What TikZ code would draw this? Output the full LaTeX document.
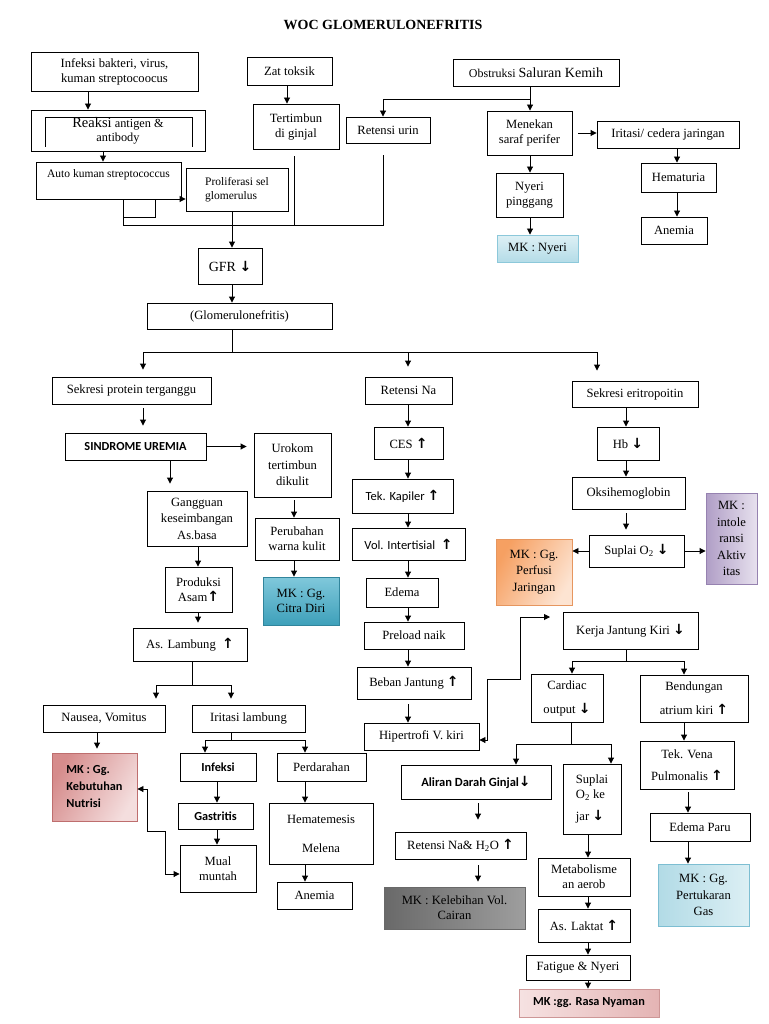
\documentclass[tikz,border=0pt]{standalone}
\usepackage{fontspec}
\setmainfont{Liberation Serif}
\newfontfamily\calibri{Carlito}
\newfontfamily\panah{DejaVu Sans}
\usetikzlibrary{arrows.meta}
\usepackage{xcolor}

\definecolor{nyeriA}{RGB}{222,240,245}
\definecolor{nyeriB}{RGB}{180,220,231}
\definecolor{nyeriC}{RGB}{140,200,218}
\definecolor{citraA}{RGB}{128,200,219}
\definecolor{citraB}{RGB}{62,160,186}
\definecolor{citraC}{RGB}{49,133,156}
\definecolor{perfusiA}{RGB}{246,160,98}
\definecolor{perfusiB}{RGB}{253,228,210}
\definecolor{perfusiC}{RGB}{230,150,95}
\definecolor{intolA}{RGB}{176,158,198}
\definecolor{intolB}{RGB}{231,225,238}
\definecolor{intolC}{RGB}{150,130,176}
\definecolor{nutriA}{RGB}{214,140,140}
\definecolor{nutriB}{RGB}{244,222,222}
\definecolor{nutriC}{RGB}{190,110,110}
\definecolor{kelebA}{RGB}{105,105,105}
\definecolor{kelebB}{RGB}{218,218,218}
\definecolor{kelebC}{RGB}{158,158,158}
\definecolor{gasA}{RGB}{178,219,230}
\definecolor{gasB}{RGB}{220,239,244}
\definecolor{gasC}{RGB}{125,190,210}
\definecolor{rasaA}{RGB}{246,226,226}
\definecolor{rasaB}{RGB}{228,180,180}
\definecolor{rasaC}{RGB}{205,150,150}

\newcommand{\naik}{{\panah\bfseries\fontsize{14}{14}\selectfont ↑}}
\newcommand{\turun}{{\panah\bfseries\fontsize{14}{14}\selectfont ↓}}

\begin{document}
\begin{tikzpicture}[
    x=1pt, y=-1pt,
    line width=0.9pt,
    box/.style={draw, rectangle, align=center, inner sep=1pt, font=\fontsize{12.6}{15}\selectfont},
    kecil/.style={font=\fontsize{11.5}{14}\selectfont},
    renggang/.style={font=\fontsize{12.6}{16.5}\selectfont},
    sans/.style={font=\calibri\fontsize{12.5}{15}\selectfont},
    sansbold/.style={font=\calibri\bfseries\fontsize{12.3}{17}\selectfont},
    arrow/.style={-{Triangle[length=6pt,width=6pt]}},
    arrowboth/.style={{Triangle[length=6pt,width=6pt]}-{Triangle[length=6pt,width=6pt]}}
]
\path[fill=white] (0,0) rectangle (768,1024);
\useasboundingbox (0,0) rectangle (768,1024);

\node[font=\bfseries\fontsize{14}{16}\selectfont] (judul) at (383,25) {WOC GLOMERULONEFRITIS};

% Bagian atas
\node[box, minimum width=167, minimum height=39] (inf) at (114.5,71.5) {Infeksi bakteri, virus,\\kuman streptocoocus};
\node[box, font=\fontsize{12.3}{14}\selectfont, minimum width=174, minimum height=41] (reaksi) at (118,130.5) {{\fontsize{14.5}{14}\selectfont Reaksi} antigen \&\\antibody};
\draw (45,147) -- (45,117) -- (192,117) -- (192,147);
\node[box, kecil, minimum width=145, minimum height=37] (auto) at (108.5,180.5) {Auto kuman streptococcus\\~};
\node[box, kecil, align=left, minimum width=102, minimum height=43] (prolif) at (237,189.5) {Proliferasi sel\\glomerulus};
\node[box, minimum width=85, minimum height=28] (zat) at (289.5,71) {Zat toksik};
\node[box, minimum width=86, minimum height=45] (tert) at (296,126.5) {Tertimbun\\di ginjal};
\node[box, minimum width=84, minimum height=26] (returin) at (388,130) {Retensi urin};
\node[box, font=\fontsize{12}{15}\selectfont, minimum width=166, minimum height=27] (obs) at (536,72.5) {Obstruksi {\fontsize{14}{15}\selectfont Saluran Kemih}};
\node[box, minimum width=85, minimum height=44] (menekan) at (529.5,133) {Menekan\\saraf perifer};
\node[box, minimum width=142, minimum height=27] (iritasi) at (668,134.5) {Iritasi/ cedera jaringan};
\node[box, minimum width=75, minimum height=29] (hematuria) at (678.5,177.5) {Hematuria};
\node[box, minimum width=66, minimum height=27] (anemiaA) at (674,230.5) {Anemia};
\node[box, minimum width=67, minimum height=44] (nyeri) at (529.5,195) {Nyeri\\pinggang};
\node[box, top color=nyeriA, bottom color=nyeriB, draw=nyeriC, minimum width=81, minimum height=27] (mknyeri) at (537.5,248.5) {MK : Nyeri};
\node[box, font=\fontsize{14}{16}\selectfont, minimum width=64, minimum height=36] (gfr) at (230,266) {GFR \turun};
\node[box, minimum width=185, minimum height=26] (glom) at (239.5,316) {(Glomerulonefritis)};

% Kolom kiri
\node[box, minimum width=159, minimum height=27] (sekresi) at (131.5,390.5) {Sekresi protein terganggu};
\node[box, sansbold, minimum width=141, minimum height=27] (sindrome) at (135.5,446.5) {SINDROME UREMIA};
\node[box, renggang, minimum width=77, minimum height=64] (urokom) at (292.5,465) {Urokom\\tertimbun\\dikulit};
\node[box, renggang, minimum width=100, minimum height=55] (gangguan) at (197,518.5) {Gangguan\\keseimbangan\\As.basa};
\node[box, minimum width=84, minimum height=42] (perubahan) at (297,539) {Perubahan\\warna kulit};
\node[box, minimum width=67, minimum height=45] (produksi) at (198.5,589.5) {Produksi\\Asam\naik};
\node[box, top color=citraA, bottom color=citraB, draw=citraC, minimum width=76, minimum height=48] (mkcitra) at (301,601) {MK : Gg.\\Citra Diri};
\node[box, minimum width=114, minimum height=33] (lambung) at (190,644.5) {As. Lambung \ \naik};
\node[box, minimum width=122, minimum height=27] (nausea) at (104,718.5) {Nausea, Vomitus};
\node[box, minimum width=113, minimum height=27] (irlamb) at (248.5,718.5) {Iritasi lambung};
\node[box, sansbold, align=left, left color=nutriA, right color=nutriB, shading angle=60, draw=nutriC, minimum width=85, minimum height=68] (mknutri) at (94.5,787) {MK : Gg.\\Kebutuhan\\Nutrisi};
\node[box, sansbold, minimum width=76, minimum height=28] (infeksi) at (218,767) {Infeksi};
\node[box, minimum width=89, minimum height=28] (perdarahan) at (321.5,767) {Perdarahan};
\node[box, sansbold, minimum width=75, minimum height=26] (gastritis) at (215.5,816) {Gastritis};
\node[box, minimum width=76, minimum height=47] (mual) at (218,868.5) {Mual\\muntah};
\node[box, minimum width=104, minimum height=61] (hema) at (321,833.5) {Hematemesis\\[14pt]Melena};
\node[box, minimum width=75, minimum height=27] (anemiaB) at (314.5,895.5) {Anemia};

% Kolom tengah
\node[box, minimum width=87, minimum height=27] (retna) at (408.5,390.5) {Retensi Na};
\node[box, minimum width=69, minimum height=32] (ces) at (408.5,443) {CES \naik};
\node[box, sans, minimum width=101, minimum height=34] (tek) at (402.5,496) {Tek. Kapiler \naik};
\node[box, sans, minimum width=113, minimum height=32] (vol) at (408.5,544) {Vol. Intertisial \ \naik};
\node[box, minimum width=72, minimum height=29] (edema) at (402,592.5) {Edema};
\node[box, minimum width=100, minimum height=27] (preload) at (414,635.5) {Preload naik};
\node[box, minimum width=114, minimum height=32] (beban) at (414,683) {Beban Jantung \naik};
\node[box, minimum width=115, minimum height=27] (hiper) at (421.5,736.5) {Hipertrofi V. kiri};

% Kolom kanan
\node[box, minimum width=126, minimum height=26] (sekeri) at (635,394) {Sekresi eritropoitin};
\node[box, minimum width=62, minimum height=33] (hb) at (628,443.5) {Hb \turun};
\node[box, minimum width=113, minimum height=32] (oksi) at (628.5,493) {Oksihemoglobin};
\node[box, minimum width=95, minimum height=32] (suplai) at (636.5,551) {Suplai O\textsubscript{2} \turun};
\node[box, renggang, left color=perfusiA, right color=perfusiB, shading angle=60, draw=perfusiC, minimum width=76, minimum height=66] (mkperfusi) at (534,572) {MK : Gg.\\Perfusi\\Jaringan};
\node[box, renggang, left color=intolA, right color=intolB, draw=intolC, minimum width=51, minimum height=91] (mkintol) at (731.5,538.5) {MK :\\intole\\ransi\\Aktiv\\itas};
\node[box, minimum width=135, minimum height=37] (kerja) at (630.5,630.5) {Kerja Jantung Kiri \turun};
\node[box, minimum width=72, minimum height=48] (cardiac) at (567,698) {Cardiac\\[9pt]output \turun};
\node[box, minimum width=108, minimum height=47] (bendungan) at (694,698.5) {Bendungan\\[9pt]atrium kiri \naik};
\node[box, sans, minimum width=150, minimum height=34] (aliran) at (476,782) {\bfseries Aliran Darah Ginjal\turun};
\node[box, align=left, minimum width=58, minimum height=70] (suplaiB) at (592,799) {Suplai\\O\textsubscript{2} ke\\[7pt]jar \turun};
\node[box, minimum width=131, minimum height=27] (retensiB) at (460.5,845.5) {Retensi Na\& H\textsubscript{2}O \naik};
\node[box, left color=kelebA, middle color=kelebB, right color=kelebC, draw=kelebA, minimum width=141, minimum height=42] (mkkeleb) at (454.5,908) {MK : Kelebihan Vol.\\Cairan};
\node[box, minimum width=92, minimum height=38] (metab) at (584,877) {Metabolisme\\an aerob};
\node[box, minimum width=92, minimum height=33] (laktat) at (584,925.5) {As. Laktat \naik};
\node[box, minimum width=104, minimum height=25] (fatigue) at (578,967.5) {Fatigue \& Nyeri};
\node[box, sansbold, left color=rasaA, right color=rasaB, draw=rasaC, minimum width=140, minimum height=28] (mkrasa) at (589,1003) {MK :gg. Rasa Nyaman};
\node[box, minimum width=94, minimum height=48] (tekvena) at (687,765) {Tek. Vena\\[7pt]Pulmonalis \naik};
\node[box, minimum width=100, minimum height=28] (edemaparu) at (700,827) {Edema Paru};
\node[box, renggang, left color=gasA, right color=gasB, draw=gasC, minimum width=91, minimum height=62] (mkgas) at (703.5,895) {MK : Gg.\\Pertukaran\\Gas};

% Panah bagian atas
\draw[arrow] (inf.south -| 88,0) -- (reaksi.north -| 88,0);
\draw[arrow] (reaksi.south -| 103,0) -- (auto.north -| 103,0);
\draw[arrow] (123,217) -| (155,199) -- (prolif.west |- 0,199);
\draw[shorten >=12pt] (auto.south -| 123,0) |- (383,225) -- (returin.south -| 383,0);
\draw[shorten <=7pt] (tert.south -| 294,0) -- (294,225);
\draw[arrow] (prolif.south -| 232,0) -- (gfr.north -| 232,0);
\draw[arrow] (zat.south -| 287,0) -- (tert.north -| 287,0);
\draw[arrow] (obs.south -| 530,0) -- (menekan.north -| 530,0);
\draw[arrow] (530,99) -| (returin.north -| 383,0);
\draw[arrow] (menekan.east -| 578,0) -- (iritasi.west |- menekan.east);
\draw[arrow] (menekan.south -| 530,0) -- (nyeri.north -| 530,0);
\draw[arrow] (nyeri.south -| 530,0) -- (mknyeri.north -| 530,0);
\draw[arrow] (iritasi.south -| 677,0) -- (hematuria.north -| 677,0);
\draw[arrow] (hematuria.south -| 677,0) -- (anemiaA.north -| 677,0);
\draw[arrow] (gfr.south -| 232,0) -- (glom.north -| 232,0);

% Cabang glomerulonefritis
\draw (glom.south -| 232,0) -- (232,352);
\draw[arrow, shorten >=7pt] (232,352) -| (sekresi.north -| 143,0);
\draw[arrow, shorten >=10pt] (232,352) -| (sekeri.north -| 597,0);
\draw[arrow, shorten >=10pt] (408,352) -- (retna.north -| 408,0);

% Panah kolom kiri
\draw[arrow, shorten <=4pt, shorten >=7pt] (sekresi.south -| 143,0) -- (sindrome.north -| 143,0);
\draw[arrow, shorten >=7pt] (sindrome.east) -- (urokom.west |- sindrome.east);
\draw[arrow, shorten >=7pt] (sindrome.south -| 170,0) -- (gangguan.north -| 170,0);
\draw[arrow] (gangguan.south -| 198,0) -- (produksi.north -| 198,0);
\draw[arrow, shorten >=5pt] (produksi.south -| 198,0) -- (lambung.north -| 198,0);
\draw[arrow, shorten <=3pt] (urokom.south -| 294,0) -- (perubahan.north -| 294,0);
\draw[arrow] (perubahan.south -| 294,0) -- (mkcitra.north -| 294,0);
\draw (lambung.south -| 192,0) -- (192,685);
\draw[arrow, shorten >=6pt] (192,685) -| (nausea.north -| 156,0);
\draw[arrow, shorten >=6pt] (192,685) -| (irlamb.north -| 231,0);
\draw[arrow, shorten >=4pt] (nausea.south -| 97,0) -- (mknutri.north -| 97,0);
\draw (irlamb.south -| 231,0) -- (231,740);
\draw[arrow] (231,740) -| (infeksi.north -| 205,0);
\draw[arrow] (231,740) -| (perdarahan.north -| 305,0);
\draw[arrow] (infeksi.south -| 217,0) -- (gastritis.north -| 217,0);
\draw[arrow] (gastritis.south -| 217,0) -- (mual.north -| 217,0);
\draw[arrow] (perdarahan.south -| 305,0) -- (hema.north -| 305,0);
\draw[arrow] (hema.south -| 305,0) -- (anemiaB.north -| 305,0);
\draw[arrowboth] (mual.west |- 0,874) -| (165,831) -| (147,789) -- (mknutri.east |- 0,789);

% Panah kolom tengah
\draw[arrow] (retna.south -| 408,0) -- (ces.north -| 408,0);
\draw[arrow] (ces.south -| 408,0) -- (tek.north -| 408,0);
\draw[arrow] (tek.south -| 408,0) -- (vol.north -| 408,0);
\draw[arrow] (vol.south -| 408,0) -- (edema.north -| 408,0);
\draw[arrow] (edema.south -| 408,0) -- (preload.north -| 408,0);
\draw[arrow] (preload.south -| 408,0) -- (beban.north -| 408,0);
\draw[arrow, shorten <=5pt] (beban.south -| 408,0) -- (hiper.north -| 408,0);
\coordinate (kj) at (550,617);
\draw[arrowboth] (hiper.east |- 0,740) -| (487,679) -| (520,617) -- (kj);

% Panah kolom kanan
\draw[arrow] (sekeri.south -| 626,0) -- (hb.north -| 626,0);
\draw[arrow] (hb.south -| 626,0) -- (oksi.north -| 626,0);
\draw[arrow, shorten <=4pt, shorten >=5pt] (oksi.south -| 626,0) -- (suplai.north -| 626,0);
\draw[arrow] (suplai.west) -- (mkperfusi.east |- suplai.west);
\draw[arrow] (suplai.east) -- (mkintol.west |- suplai.east);
\draw (kerja.south -| 626,0) -- (626,661);
\draw[arrow] (626,661) -| (cardiac.north -| 572,0);
\draw[arrow] (626,661) -| (bendungan.north -| 684,0);
\draw (cardiac.south -| 571,0) -- (571,744);
\draw[arrow] (571,744) -| (aliran.north -| 516,0);
\draw[arrow] (571,744) -| (suplaiB.north -| 611,0);
\draw[arrow, shorten <=4pt, shorten >=12pt] (aliran.south -| 478,0) -- (retensiB.north -| 478,0);
\draw[arrow, shorten <=6pt, shorten >=5pt] (retensiB.south -| 478,0) -- (mkkeleb.north -| 478,0);
\draw[arrow] (suplaiB.south -| 588,0) -- (metab.north -| 588,0);
\draw[arrow] (metab.south -| 588,0) -- (laktat.north -| 588,0);
\draw[arrow] (laktat.south -| 588,0) -- (fatigue.north -| 588,0);
\draw[arrow] (fatigue.south -| 588,0) -- (mkrasa.north -| 588,0);
\draw[arrow] (bendungan.south -| 684,0) -- (tekvena.north -| 684,0);
\draw[arrow, shorten <=3pt] (tekvena.south -| 688,0) -- (edemaparu.north -| 688,0);
\draw[arrow] (edemaparu.south -| 688,0) -- (mkgas.north -| 688,0);

\end{tikzpicture}
\end{document}
